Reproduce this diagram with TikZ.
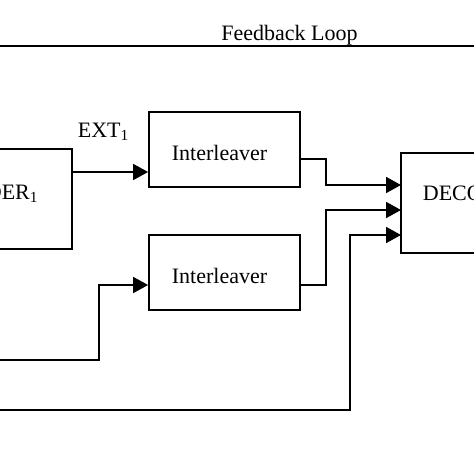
\documentclass[tikz,border=0pt]{standalone}
\usepackage{fontspec}
\setmainfont{Liberation Serif}
\usetikzlibrary{arrows.meta}
\begin{document}
\begin{tikzpicture}[x=1pt,y=-1pt, line width=1.8pt,
  blk/.style={draw, rectangle, inner sep=0pt, text height=21pt, text depth=0pt},
  arr/.style={-{Triangle[length=15pt,width=16pt]}},
  font=\fontsize{22}{26}\selectfont]
\useasboundingbox (0,0) rectangle (474,474);
\clip (0,0) rectangle (474,474);
% feedback loop line
\coordinate (f1) at (0,46);
\coordinate (f2) at (474,46);
\draw (f1) -- (f2);
\node[anchor=base, inner sep=0pt] (fbl) at (289.5,40) {Feedback Loop};
% blocks
\node[blk, minimum width=102pt, minimum height=100pt] (dec1) at (21,199) {};
\node[anchor=base east, inner sep=0pt] (dec1t) at (39,199) {DECODER\textsubscript{1}};
\node[blk, minimum width=151pt, minimum height=75pt] (il1) at (224.5,149.5) {\hspace{-10pt}Interleaver};
\node[blk, minimum width=151pt, minimum height=75pt] (il2) at (224.5,272.5) {\hspace{-10pt}Interleaver};
\node[draw, rectangle, inner sep=0pt, minimum width=120pt, minimum height=100pt] (dec2) at (461,203) {};
\node[anchor=base west, inner sep=0pt] (dec2t) at (422,200) {DECODER\textsubscript{2}};
\node[anchor=base west, inner sep=0pt] (ext) at (77,137) {EXT\textsubscript{1}};
% coordinates
\coordinate (a1) at (72,172);
\coordinate (b1) at (326,159);
\coordinate (b2) at (326,285);
\coordinate (in1) at (401,185);
\coordinate (in2) at (401,210);
\coordinate (in3) at (401,235);
\coordinate (s1) at (0,360);
\coordinate (k1) at (99,360);
\coordinate (s2) at (0,410);
\coordinate (k2) at (350,410);
% connectors
\draw[arr] (a1) -- (a1 -| il1.west);
\draw[arr] (il1.east |- b1) -- (b1) |- (in1);
\draw[arr] (il2.east |- b2) -- (b2) |- (in2);
\draw[arr] (s1) -- (k1) |- (il2.west |- b2);
\draw[arr] (s2) -- (k2) |- (in3);
\end{tikzpicture}
\end{document}
